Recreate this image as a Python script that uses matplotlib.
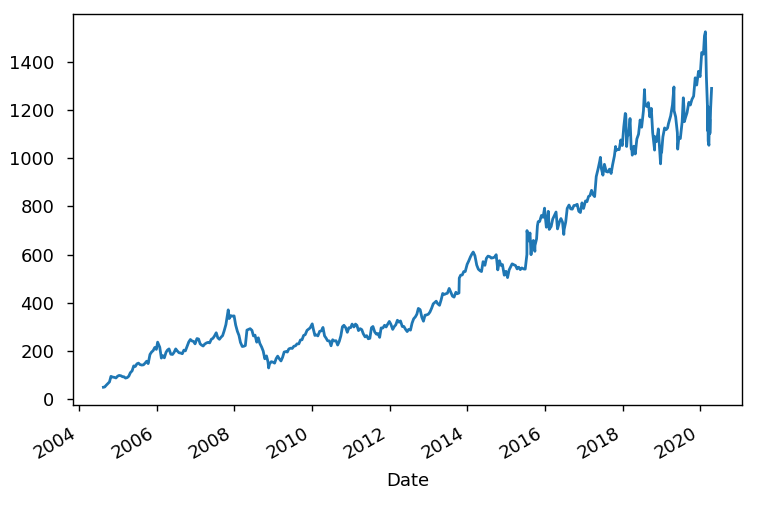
import matplotlib
import matplotlib.pyplot as plt
import matplotlib.dates as mdates
import pandas as pd

matplotlib.use('agg')

# closing price (roughly twice a month, plus visible peaks / dips)
dates_2004_2008 = [
    '2004-08-19', '2004-08-31', '2004-09-15', '2004-09-30', '2004-10-15', '2004-10-29',
    '2004-11-15', '2004-11-30', '2004-12-15', '2004-12-31',
    '2005-01-14', '2005-01-31', '2005-02-15', '2005-02-28', '2005-03-15', '2005-03-31',
    '2005-04-15', '2005-04-29', '2005-05-16', '2005-05-31', '2005-06-15', '2005-06-30',
    '2005-07-15', '2005-07-29', '2005-08-15', '2005-08-31', '2005-09-15', '2005-09-30',
    '2005-10-14', '2005-10-31', '2005-11-15', '2005-11-30', '2005-12-15', '2005-12-30',
    '2006-01-11', '2006-01-31', '2006-02-15', '2006-02-28', '2006-03-15', '2006-03-31',
    '2006-04-13', '2006-04-28', '2006-05-15', '2006-05-31', '2006-06-15', '2006-06-30',
    '2006-07-14', '2006-07-31', '2006-08-15', '2006-08-31', '2006-09-15', '2006-09-29',
    '2006-10-16', '2006-10-31', '2006-11-15', '2006-11-30', '2006-12-15', '2006-12-29',
    '2007-01-16', '2007-01-31', '2007-02-15', '2007-02-28', '2007-03-15', '2007-03-30',
    '2007-04-16', '2007-04-30', '2007-05-15', '2007-05-31', '2007-06-15', '2007-06-29',
    '2007-07-16', '2007-07-31', '2007-08-15', '2007-08-31', '2007-09-14', '2007-09-28',
    '2007-10-15', '2007-10-31', '2007-11-06', '2007-11-15', '2007-11-30', '2007-12-14',
    '2007-12-31',
]
close_2004_2008 = [
    50, 51, 58.5, 65, 72, 95,
    92, 91, 88.5, 96,
    99, 97.5, 93.5, 93.5, 88, 90,
    96, 110, 118, 138.5, 136, 147,
    150, 144, 142, 143, 150, 158,
    148, 186, 196, 202, 215, 207,
    237, 216, 171, 181, 172, 195,
    204, 209, 187, 186, 195, 209,
    201, 193, 192, 189, 204, 201,
    220, 238, 248, 242, 240, 230,
    252, 250, 230, 225, 221, 229,
    234, 236, 234, 249, 253, 262,
    276, 255, 249, 258, 264, 283,
    310, 354, 371, 335, 347, 345,
    346,
]

dates_2008_2012 = [
    '2008-01-15', '2008-01-31', '2008-02-15', '2008-02-29', '2008-03-17', '2008-03-31',
    '2008-04-15', '2008-04-30', '2008-05-15', '2008-05-30', '2008-06-16', '2008-06-30',
    '2008-07-15', '2008-07-31', '2008-08-15', '2008-08-29', '2008-09-15', '2008-09-30',
    '2008-10-15', '2008-10-31', '2008-11-14', '2008-11-20', '2008-11-28', '2008-12-15',
    '2008-12-31',
    '2009-01-15', '2009-01-30', '2009-02-13', '2009-02-27', '2009-03-16', '2009-03-31',
    '2009-04-15', '2009-04-30', '2009-05-15', '2009-05-29', '2009-06-15', '2009-06-30',
    '2009-07-15', '2009-07-31', '2009-08-14', '2009-08-31', '2009-09-15', '2009-09-30',
    '2009-10-15', '2009-10-30', '2009-11-16', '2009-11-30', '2009-12-15', '2009-12-31',
    '2010-01-04', '2010-01-15', '2010-01-29', '2010-02-12', '2010-02-26', '2010-03-15',
    '2010-03-31', '2010-04-15', '2010-04-30', '2010-05-14', '2010-05-28', '2010-06-15',
    '2010-06-30', '2010-07-15', '2010-07-30', '2010-08-16', '2010-08-31', '2010-09-15',
    '2010-09-30', '2010-10-15', '2010-10-29', '2010-11-15', '2010-11-30', '2010-12-15',
    '2010-12-31',
    '2011-01-14', '2011-01-31', '2011-02-15', '2011-02-28', '2011-03-15', '2011-03-31',
    '2011-04-15', '2011-04-29', '2011-05-16', '2011-05-31', '2011-06-15', '2011-06-30',
    '2011-07-15', '2011-07-29', '2011-08-15', '2011-08-31', '2011-09-15', '2011-09-30',
    '2011-10-14', '2011-10-31', '2011-11-15', '2011-11-30', '2011-12-15', '2011-12-30',
]
close_2008_2012 = [
    308, 282, 265, 236, 219, 220,
    223, 287, 290, 293, 286, 263,
    266, 237, 255, 232, 217, 200,
    168, 180, 155, 130, 146, 156,
    154,
    150, 169, 179, 169, 159, 174,
    196, 198, 196, 209, 212, 211,
    220, 222, 230, 230, 246, 247,
    265, 268, 286, 291, 296, 310,
    313, 290, 265, 267, 263, 282,
    284, 298, 263, 254, 243, 242,
    222, 247, 242, 243, 225, 240,
    263, 301, 307, 297, 278, 297,
    297,
    312, 300, 312, 307, 285, 293,
    289, 272, 259, 264, 251, 253,
    297, 302, 279, 270, 273, 257,
    296, 296, 307, 300, 312, 323,
]

dates_2012_2016 = [
    '2012-01-13', '2012-01-31', '2012-02-15', '2012-02-29', '2012-03-15', '2012-03-30',
    '2012-04-13', '2012-04-30', '2012-05-15', '2012-05-31', '2012-06-15', '2012-06-29',
    '2012-07-16', '2012-07-31', '2012-08-15', '2012-08-31', '2012-09-14', '2012-09-28',
    '2012-10-15', '2012-10-31', '2012-11-15', '2012-11-30', '2012-12-14', '2012-12-31',
    '2013-01-15', '2013-01-31', '2013-02-15', '2013-02-28', '2013-03-15', '2013-03-28',
    '2013-04-15', '2013-04-30', '2013-05-15', '2013-05-31', '2013-06-14', '2013-06-28',
    '2013-07-15', '2013-07-31', '2013-08-15', '2013-08-30', '2013-09-16', '2013-09-30',
    '2013-10-15', '2013-10-18', '2013-10-31', '2013-11-15', '2013-11-29', '2013-12-13',
    '2013-12-31',
    '2014-01-15', '2014-01-31', '2014-02-14', '2014-02-26', '2014-03-14', '2014-03-31',
    '2014-04-15', '2014-04-30', '2014-05-15', '2014-05-30', '2014-06-16', '2014-06-30',
    '2014-07-15', '2014-07-31', '2014-08-15', '2014-08-29', '2014-09-15', '2014-09-30',
    '2014-10-15', '2014-10-31', '2014-11-14', '2014-11-28', '2014-12-15', '2014-12-31',
    '2015-01-15', '2015-01-30', '2015-02-13', '2015-02-27', '2015-03-16', '2015-03-31',
    '2015-04-15', '2015-04-30', '2015-05-15', '2015-05-29', '2015-06-15', '2015-06-30',
    '2015-07-16', '2015-07-17', '2015-07-31', '2015-08-14', '2015-08-24', '2015-08-31',
    '2015-09-15', '2015-09-29', '2015-09-30', '2015-10-15', '2015-10-23', '2015-10-30',
    '2015-11-13', '2015-11-30', '2015-12-15', '2015-12-29', '2015-12-31',
]
close_2012_2016 = [
    312, 290, 302, 309, 328, 320,
    325, 302, 302, 290, 281, 290,
    287, 316, 334, 342, 353, 377,
    372, 340, 324, 349, 350, 353,
    362, 378, 396, 401, 407, 397,
    390, 412, 439, 435, 438, 440,
    460, 444, 428, 424, 444, 438,
    441, 503, 515, 516, 530, 530,
    560,
    574, 591, 603, 611, 596, 557,
    540, 534, 530, 571, 556, 585,
    594, 592, 586, 587, 590, 600,
    537, 575, 556, 559, 515, 531,
    505, 537, 550, 562, 558, 555,
    541, 548, 538, 545, 541, 540,
    601, 700, 657, 690, 600, 647,
    659, 614, 638, 666, 720, 737,
    738, 763, 755, 793, 778,
]

dates_2016_2020 = [
    '2016-01-15', '2016-01-29', '2016-02-02', '2016-02-11', '2016-02-29', '2016-03-15',
    '2016-03-31', '2016-04-15', '2016-04-29', '2016-05-16', '2016-05-31', '2016-06-15',
    '2016-06-27', '2016-06-30', '2016-07-15', '2016-07-29', '2016-08-15', '2016-08-31',
    '2016-09-15', '2016-09-30', '2016-10-14', '2016-10-31', '2016-11-15', '2016-11-30',
    '2016-12-15', '2016-12-30',
    '2017-01-17', '2017-01-31', '2017-02-15', '2017-02-28', '2017-03-15', '2017-03-31',
    '2017-04-13', '2017-04-28', '2017-05-15', '2017-05-31', '2017-06-06', '2017-06-15',
    '2017-06-30', '2017-07-14', '2017-07-31', '2017-08-15', '2017-08-31', '2017-09-15',
    '2017-09-29', '2017-10-16', '2017-10-27', '2017-10-31', '2017-11-15', '2017-11-30',
    '2017-12-15', '2017-12-29',
    '2018-01-12', '2018-01-26', '2018-01-31', '2018-02-08', '2018-02-15', '2018-02-28',
    '2018-03-12', '2018-03-23', '2018-03-29', '2018-04-02', '2018-04-16', '2018-04-30',
    '2018-05-15', '2018-05-31', '2018-06-15', '2018-06-29', '2018-07-16', '2018-07-26',
    '2018-07-31', '2018-08-15', '2018-08-31', '2018-09-14', '2018-09-28', '2018-10-11',
    '2018-10-29', '2018-10-31', '2018-11-15', '2018-11-30', '2018-12-03', '2018-12-24',
    '2018-12-31',
    '2019-01-03', '2019-01-15', '2019-01-31', '2019-02-15', '2019-02-28', '2019-03-08',
    '2019-03-29', '2019-04-15', '2019-04-29', '2019-04-30', '2019-05-15', '2019-05-31',
    '2019-06-03', '2019-06-14', '2019-06-28', '2019-07-15', '2019-07-26', '2019-07-31',
    '2019-08-05', '2019-08-15', '2019-08-30', '2019-09-16', '2019-09-30', '2019-10-15',
    '2019-10-31', '2019-11-15', '2019-11-29', '2019-12-16', '2019-12-31',
    '2020-01-15', '2020-01-31', '2020-02-10', '2020-02-19', '2020-02-24', '2020-02-28',
    '2020-03-09', '2020-03-12', '2020-03-13', '2020-03-16', '2020-03-23', '2020-03-26',
    '2020-03-31', '2020-04-01', '2020-04-08', '2020-04-14', '2020-04-17',
]
close_2016_2020 = [
    714, 761, 780, 705, 717, 748,
    763, 777, 707, 735, 750, 735,
    684, 704, 736, 792, 806, 790,
    789, 804, 805, 809, 780, 775,
    815, 792,
    823, 820, 842, 845, 867, 848,
    841, 924, 955, 988, 1004, 958,
    930, 975, 945, 943, 955, 937,
    973, 1010, 1049, 1033, 1036, 1036,
    1076, 1053,
    1130, 1186, 1182, 1049, 1089, 1104,
    1165, 1039, 1037, 1013, 1050, 1018,
    1080, 1100, 1159, 1129, 1197, 1285,
    1227, 1215, 1231, 1172, 1207, 1106,
    1034, 1090, 1069, 1109, 1122, 977,
    1045,
    1025, 1089, 1126, 1119, 1126, 1143,
    1176, 1222, 1296, 1198, 1172, 1106,
    1038, 1086, 1082, 1151, 1251, 1218,
    1152, 1168, 1189, 1232, 1221, 1244,
    1258, 1334, 1304, 1361, 1339,
    1439, 1432, 1508, 1525, 1420, 1339,
    1215, 1114, 1215, 1072, 1054, 1162,
    1161, 1103, 1208, 1265, 1290,
]

dates = pd.to_datetime(dates_2004_2008 + dates_2008_2012 + dates_2012_2016 + dates_2016_2020)
close = close_2004_2008 + close_2008_2012 + close_2012_2016 + close_2016_2020

plt.rcParams['font.size'] = 13

fig = plt.figure(figsize=(7.78, 5.08), dpi=100)
ax = fig.add_axes([73 / 778, 1 - 405 / 508, 669 / 778, 391 / 508])
ax.plot(dates, close, color='#1f77b4', linewidth=2.0)

ax.xaxis.set_major_locator(mdates.YearLocator(2))
ax.xaxis.set_major_formatter(mdates.DateFormatter('%Y'))
ax.tick_params(length=4.5, width=1.0, pad=9)
for spine in ax.spines.values():
    spine.set_linewidth(1.0)
for label in ax.get_xticklabels():
    label.set_rotation(30)
    label.set_horizontalalignment('right')
ax.set_xlabel('Date', labelpad=7)

plt.savefig('out.png', dpi=100)
